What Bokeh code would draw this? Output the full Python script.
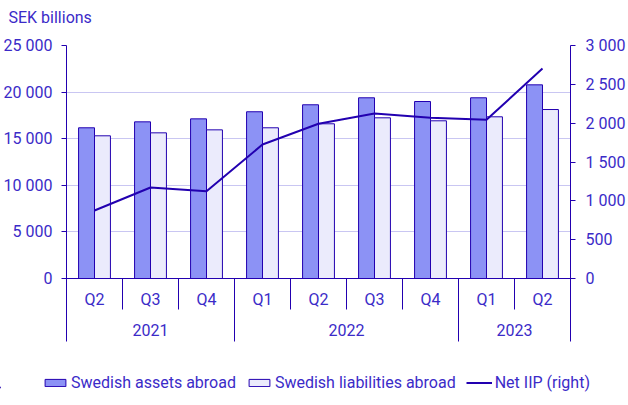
from bokeh.plotting import figure
from bokeh.layouts import column
from bokeh.models import (Range1d, LinearAxis, FixedTicker, Label, Legend,
                          LegendItem, ColumnDataSource)
from bokeh.transform import dodge
from bokeh.core.properties import value
from bokeh.embed import file_html
from bokeh.resources import INLINE

# ---- data (SEK billions) ----
years = ["2021", "2021", "2021", "2022", "2022", "2022", "2022", "2023", "2023"]
quarters = ["Q2", "Q3", "Q4", "Q1", "Q2", "Q3", "Q4", "Q1", "Q2"]
assets = [16170, 16810, 17130, 17890, 18640, 19390, 18990, 19390, 20780]
liabilities = [15310, 15630, 15950, 16170, 16600, 17240, 16920, 17350, 18130]
net_iip = [875, 1172, 1124, 1725, 1992, 2124, 2069, 2043, 2704]

left_ticks = [0, 5000, 10000, 15000, 20000, 25000]
right_ticks = [0, 500, 1000, 1500, 2000, 2500, 3000]

series_labels = ["Swedish assets abroad", "Swedish liabilities abroad", "Net IIP (right)"]
unit_label = "SEK billions"

# ---- styling ----
FONT = "Roboto"
FS = "16px"
TEXT = "#3b2bc8"
DARK = "#2200b0"
ASSET_FILL = "#8c92f5"
LIAB_FILL = "#ebebfc"
GRID = "#c9c6f2"

# page layout (pixels from the top-left of the page)
W = 628
TOP_H = 30          # strip holding the unit label
MAIN_BOTTOM = 368   # bottom of the chart strip
PAGE_H = 405
F_LEFT, F_RIGHT, F_TOP = 65, 571, 45
ZERO_PX = 278       # row of the zero line
SEP_Q = 309         # quarter separators end here
SEP_Y = 341         # year separators / axis lines end here

n = len(quarters)
left_max, right_max = left_ticks[-1], right_ticks[-1]
lpp = left_max / (ZERO_PX - F_TOP)     # left-axis units per pixel
rpp = right_max / (ZERO_PX - F_TOP)    # right-axis units per pixel


def ly(px):
    return (ZERO_PX - px) * lpp


def ry(px):
    return (ZERO_PX - px) * rpp


def fmt(v):
    return f"{v:,}".replace(",", " ")


def strip(top, bottom):
    f = figure(width=W, height=bottom - top, output_backend="svg",
               toolbar_location=None, x_range=Range1d(0, W),
               y_range=Range1d(bottom, top), x_axis_location=None,
               y_axis_location=None, min_border=0, min_border_left=0,
               min_border_right=0, min_border_top=0, min_border_bottom=0,
               frame_align=False)
    f.grid.visible = False
    f.outline_line_color = None
    f.background_fill_color = "white"
    f.border_fill_color = "white"
    return f


# ---- unit label strip ----
top = strip(0, TOP_H)
top.add_layout(Label(x=8, y=17, text=unit_label, text_font=FONT,
                     text_font_size=FS, text_color=TEXT,
                     text_baseline="middle", text_align="left"))

# ---- main chart ----
p = figure(width=W, height=MAIN_BOTTOM - TOP_H, output_backend="svg",
           toolbar_location=None, x_range=Range1d(-0.5, n - 0.5),
           y_range=Range1d(ly(MAIN_BOTTOM), left_max), x_axis_location=None,
           min_border_left=F_LEFT, min_border_right=W - F_RIGHT,
           min_border_top=F_TOP - TOP_H, min_border_bottom=0,
           frame_align=False)
p.outline_line_color = None
p.background_fill_color = "white"
p.border_fill_color = "white"
p.extra_y_ranges = {"right": Range1d(ry(MAIN_BOTTOM), right_max)}

p.xgrid.visible = False
p.ygrid.ticker = FixedTicker(ticks=left_ticks)
p.ygrid.grid_line_color = GRID


def style_axis(ax, ticks):
    ax.ticker = FixedTicker(ticks=ticks)
    ax.major_label_overrides = {t: fmt(t) for t in ticks}
    ax.axis_line_color = DARK
    ax.major_tick_line_color = DARK
    ax.major_tick_in = 0
    ax.major_tick_out = 5
    ax.minor_tick_line_color = None
    ax.major_label_text_font = FONT
    ax.major_label_text_font_size = FS
    ax.major_label_text_color = TEXT


yl = p.yaxis[0]
style_axis(yl, left_ticks)
yl.bounds = (ly(SEP_Y), left_max)
yl.major_label_standoff = 9

yr = LinearAxis(y_range_name="right")
style_axis(yr, right_ticks)
yr.bounds = (ry(SEP_Y), right_max)
yr.major_label_standoff = 10
p.add_layout(yr, "right")

xs = list(range(n))
src = ColumnDataSource(dict(x=xs, assets=assets, liab=liabilities, iip=net_iip))
bw = 16 * n / (F_RIGHT - F_LEFT)
bar_a = dict(fill_color=ASSET_FILL, line_color=DARK, line_width=1)
bar_l = dict(fill_color=LIAB_FILL, line_color=DARK, line_width=1)
line_n = dict(line_color=DARK, line_width=2)

p.vbar(x=dodge("x", -bw / 2, range=p.x_range), top="assets", width=bw,
       source=src, **bar_a)
p.vbar(x=dodge("x", bw / 2, range=p.x_range), top="liab", width=bw,
       source=src, **bar_l)
p.line(x="x", y="iip", source=src, y_range_name="right", **line_n)

# two-level category axis: baseline, separators, quarter and year labels
p.segment(x0=[-0.5], y0=[0], x1=[n - 0.5], y1=[0], line_color=DARK, line_width=1)
bounds_idx = [i for i in range(1, n) if years[i] != years[i - 1]]
q_idx = [i for i in range(1, n) if i not in bounds_idx]
p.segment(x0=[i - 0.5 for i in q_idx], y0=[0] * len(q_idx),
          x1=[i - 0.5 for i in q_idx], y1=[ly(SEP_Q)] * len(q_idx),
          line_color=DARK, line_width=1)
p.segment(x0=[i - 0.5 for i in bounds_idx], y0=[0] * len(bounds_idx),
          x1=[i - 0.5 for i in bounds_idx], y1=[ly(SEP_Y)] * len(bounds_idx),
          line_color=DARK, line_width=1)

p.text(x=xs, y=[ly(299)] * n, text=quarters, text_font=value(FONT),
       text_font_size=FS, text_color=TEXT, text_align="center",
       text_baseline="middle")

groups = []
for i, yv in enumerate(years):
    if groups and groups[-1][0] == yv:
        groups[-1][2] = i
    else:
        groups.append([yv, i, i])
p.text(x=[(a + b) / 2 for _, a, b in groups], y=[ly(329)] * len(groups),
       text=[g[0] for g in groups], text_font=value(FONT), text_font_size=FS,
       text_color=TEXT, text_align="center", text_baseline="middle")

# ---- legend strip (keys sit left of the visible area; only swatches show) ----
leg = strip(MAIN_BOTTOM, PAGE_H)
off = -2 * W
mid = (MAIN_BOTTOM + PAGE_H) / 2
k_a = leg.vbar(x=[off], bottom=[mid], top=[mid + 1], width=1, **bar_a)
k_l = leg.vbar(x=[off], bottom=[mid], top=[mid + 1], width=1, **bar_l)
k_n = leg.line(x=[off, off + 1], y=[mid, mid], **line_n)
legend = Legend(items=[LegendItem(label=series_labels[0], renderers=[k_a]),
                       LegendItem(label=series_labels[1], renderers=[k_l]),
                       LegendItem(label=series_labels[2], renderers=[k_n])],
                orientation="horizontal", location=(42, PAGE_H - 392),
                glyph_width=26, glyph_height=9, label_standoff=3, spacing=10,
                padding=0, margin=0, label_height=16,
                label_text_font=FONT, label_text_font_size=FS,
                label_text_color=TEXT, border_line_color=None,
                background_fill_alpha=0)
leg.add_layout(legend, "center")

page = column(top, p, leg, spacing=0)
open("out.html", "w").write(file_html(page, INLINE))
